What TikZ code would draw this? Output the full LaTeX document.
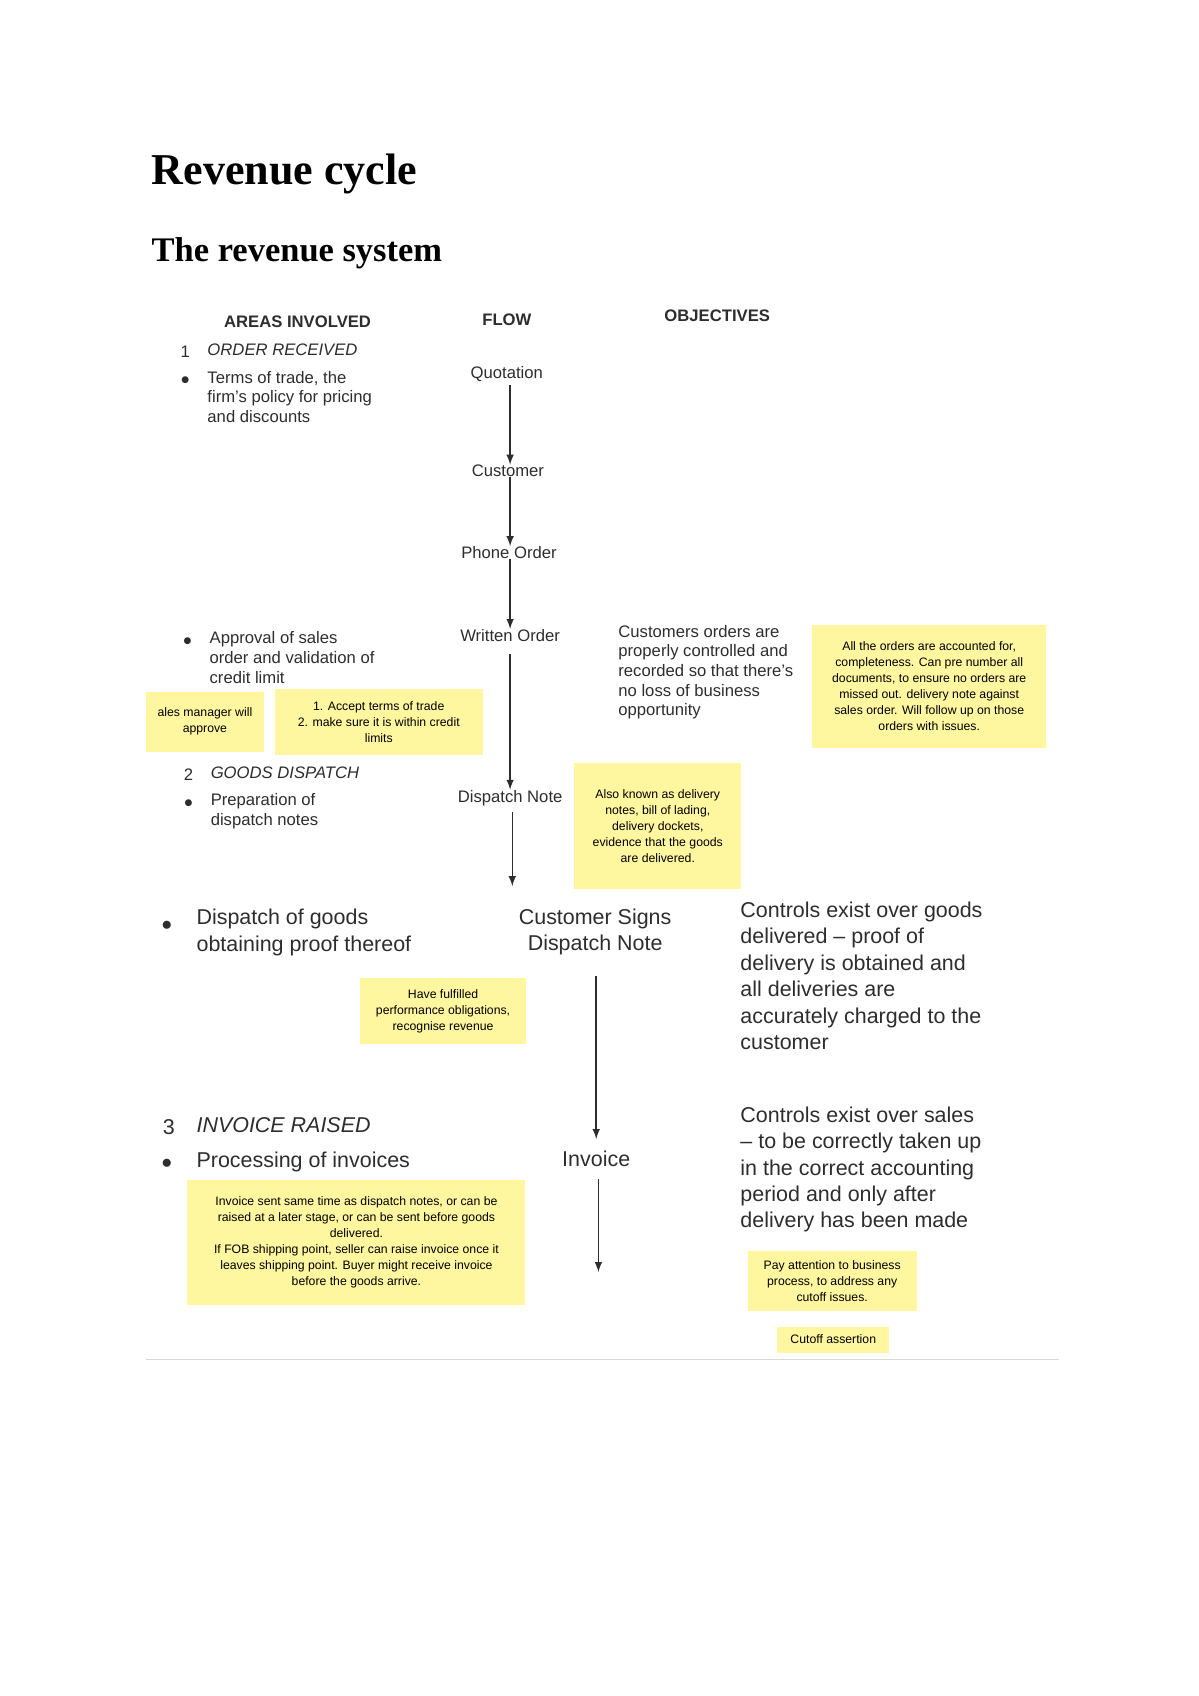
\documentclass[tikz,border=0pt]{standalone}
\usepackage{fontspec}
\setmainfont{Liberation Sans}
\newfontfamily\titlefont{Liberation Serif}
\usepackage{xcolor}
\definecolor{notefill}{RGB}{255,246,160}
\definecolor{scangray}{RGB}{45,45,45}
\tikzset{
  scan/.style={text=scangray, font=\fontsize{8.7}{10.3}\selectfont, inner sep=0pt},
  scanbig/.style={text=scangray, font=\fontsize{11.2}{13.8}\selectfont, inner sep=0pt},
  note/.style={fill=notefill, font=\fontsize{6.4}{8.4}\selectfont, align=center, inner sep=1pt},
  flow/.style={->, >=latex, thick, scangray}
}
\begin{document}
\begin{tikzpicture}[x=0.02cm, y=-0.02cm]
	\useasboundingbox (0,0) rectangle (1100,1556);
	\node[anchor=west, font=\titlefont\bfseries\fontsize{23}{26}\selectfont] at (133,160) (title) {Revenue cycle};
	\node[anchor=west, font=\titlefont\bfseries\fontsize{18}{21}\selectfont] at (133,232) (subtitle) {The revenue system};

	% headers
	\node[scan, font=\bfseries\fontsize{8.7}{10.3}\selectfont] at (273,295) (hareas) {AREAS INVOLVED};
	\node[scan, font=\bfseries\fontsize{8.7}{10.3}\selectfont] at (465,293) (hflow) {FLOW};
	\node[scan, font=\bfseries\fontsize{8.7}{10.3}\selectfont] at (658,290) (hobj) {OBJECTIVES};

	% 1 order received
	\node[scan] at (170,323) (n1) {1};
	\node[scan, anchor=west, font=\itshape\fontsize{8.7}{10.3}\selectfont] at (190,321) (orderrec) {ORDER RECEIVED};
	\node[scan] at (170,349) (b1) {$\bullet$};
	\node[scan, anchor=north west, align=left] at (190,340) (terms) {Terms of trade, the\\firm's policy for pricing\\and discounts};
	\node[scan] at (465,343) (quote) {Quotation};
	\node[scan] at (466,432) (cust) {Customer};
	\node[scan] at (467,507) (phone) {Phone Order};
	\node[scan] at (468,583) (written) {Written Order};
	\node[scan] at (468,732) (dispatch) {Dispatch Note};
	\coordinate (dispend) at (470,813);
	\draw[flow] (468,353) -- (cust.north -| 468,0);
	\draw[flow] (cust.south -| 468,0) -- (phone.north -| 468,0);
	\draw[flow] (phone.south -| 468,0) -- (written.north -| 468,0);
	\draw[flow] (468,600) -- (dispatch.north -| 468,0);
	\draw[flow] (470,745) -- (dispend);

	\node[scan] at (172,589) (b2) {$\bullet$};
	\node[scan, anchor=north west, align=left] at (192,579) (approval) {Approval of sales\\order and validation of\\credit limit};
	\node[scan, anchor=north west, align=left] at (567,573) (objorders) {Customers orders are\\properly controlled and\\recorded so that there's\\no loss of business\\opportunity};

	\node[note, minimum width=108*0.02cm, minimum height=55*0.02cm] at (188,662) (salesmgr) {ales manager will\\approve};
	\node[note, minimum width=191*0.02cm, minimum height=61*0.02cm] at (347.5,662.5) (accept) {1. Accept terms of trade\\2. make sure it is within credit\\limits};
	\node[note, minimum width=215*0.02cm, minimum height=113*0.02cm] at (852.5,629.5) (allorders) {All the orders are accounted for,\\completeness. Can pre number all\\documents, to ensure no orders are\\missed out. delivery note against\\sales order. Will follow up on those\\orders with issues.};

	% 2 goods dispatch
	\node[scan] at (173,711) (n2) {2};
	\node[scan, anchor=west, font=\itshape\fontsize{8.7}{10.3}\selectfont] at (193,709) (goodsdisp) {GOODS DISPATCH};
	\node[scan] at (173,737) (b3) {$\bullet$};
	\node[scan, anchor=north west, align=left] at (193,728) (prep) {Preparation of\\dispatch notes};
	\node[note, minimum width=153*0.02cm, minimum height=116*0.02cm] at (603.5,758) (alsoknown) {Also known as delivery\\notes, bill of lading,\\delivery dockets,\\evidence that the goods\\are delivered.};

	% lower section
	\node[scanbig] at (153,849) (b4) {$\bullet$};
	\node[scanbig, anchor=north west, align=left] at (180,834) (dispgoods) {Dispatch of goods\\obtaining proof thereof};
	\node[scanbig, align=center] at (546,855) (signs) {Customer Signs\\Dispatch Note};
	\node[scanbig, anchor=north west, align=left] at (679,827) (objgoods) {Controls exist over goods\\delivered -- proof of\\delivery is obtained and\\all deliveries are\\accurately charged to the\\customer};
	\node[note, minimum width=153*0.02cm, minimum height=61*0.02cm] at (406.5,927.5) (fulfilled) {Have fulfilled\\performance obligations,\\recognise revenue};

	% 3 invoice raised
	\node[scanbig] at (155,1034) (n3) {3};
	\node[scanbig, anchor=west, font=\itshape\fontsize{11.2}{13.8}\selectfont] at (180,1032) (invraised) {INVOICE RAISED};
	\node[scanbig] at (153,1068) (b5) {$\bullet$};
	\node[scanbig, anchor=west] at (180,1066) (procinv) {Processing of invoices};
	\node[scanbig] at (547,1063) (invoice) {Invoice};
	\coordinate (signsend) at (547,1045);
	\coordinate (invend) at (549,1167);
	\draw[flow] (547,895) -- (signsend);
	\draw[flow] (549,1082) -- (invend);
	\node[scanbig, anchor=north west, align=left] at (679,1015) (objsales) {Controls exist over sales\\-- to be correctly taken up\\in the correct accounting\\period and only after\\delivery has been made};
	\node[note, minimum width=310*0.02cm, minimum height=114*0.02cm] at (327,1140) (invsent) {Invoice sent same time as dispatch notes, or can be\\raised at a later stage, or can be sent before goods\\delivered.\\If FOB shipping point, seller can raise invoice once it\\leaves shipping point. Buyer might receive invoice\\before the goods arrive.};
	\node[note, minimum width=155*0.02cm, minimum height=55*0.02cm] at (763.5,1175.5) (payatt) {Pay attention to business\\process, to address any\\cutoff issues.};
	\node[note, minimum width=103*0.02cm, minimum height=24*0.02cm] at (764.5,1229) (cutoff) {Cutoff assertion};

	\coordinate (ruleL) at (134,1247);
	\coordinate (ruleR) at (972,1247);
	\draw[black!15] (ruleL) -- (ruleR);
\end{tikzpicture}
\end{document}
